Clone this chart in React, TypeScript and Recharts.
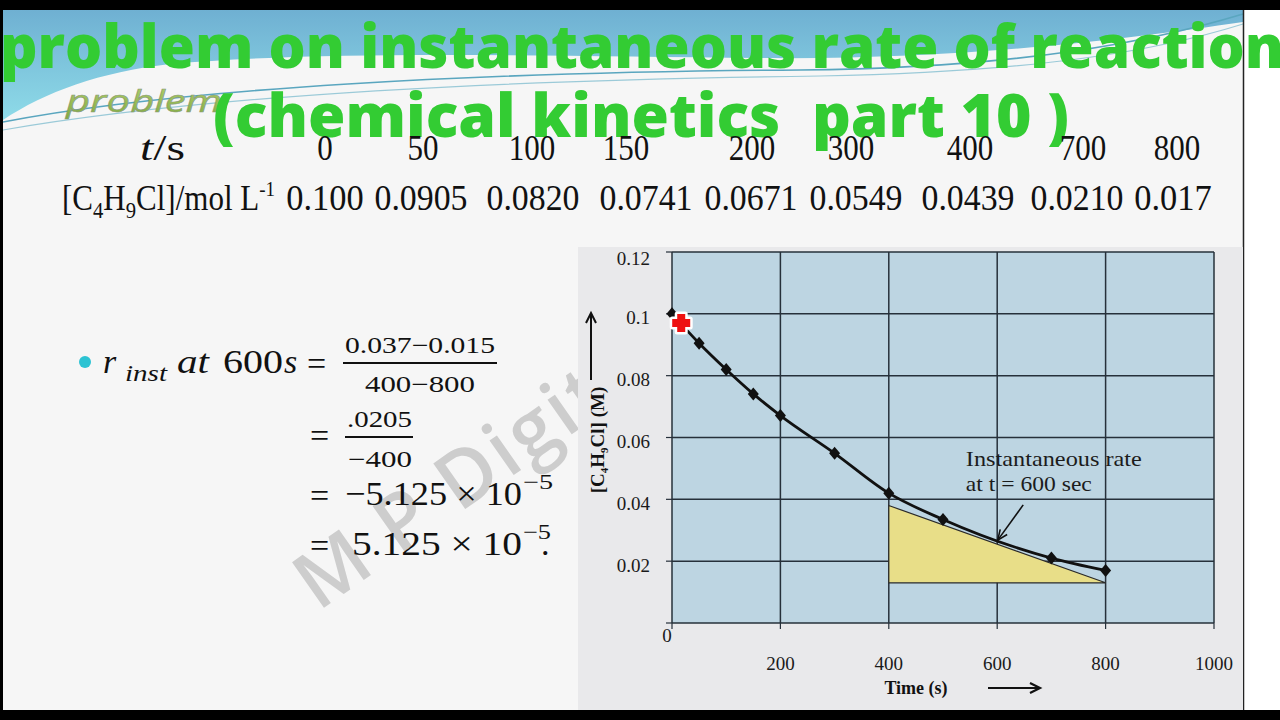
import React from 'react';
import {
  ComposedChart,
  Line,
  Scatter,
  XAxis,
  YAxis,
  CartesianGrid,
  ReferenceArea,
  ReferenceLine,
  ReferenceDot,
} from 'recharts';

// table on the slide
const tableTimes = ['0', '50', '100', '150', '200', '300', '400', '700', '800'];
const tableConc = ['0.100', '0.0905', '0.0820', '0.0741', '0.0671', '0.0549', '0.0439', '0.0210', '0.017'];

// points plotted on the graph
const plotTimes = [0, 50, 100, 150, 200, 300, 400, 500, 700, 800];
const plotConc = [0.1, 0.0905, 0.082, 0.0741, 0.0671, 0.0549, 0.042, 0.0335, 0.021, 0.017];

const xTicks = [0, 200, 400, 600, 800, 1000];
const yTicks = [0, 0.02, 0.04, 0.06, 0.08, 0.1, 0.12];

// tangent triangle drawn at t = 600 s
const tangentTimes = [400, 800];
const tangentConc = [0.038, 0.013];

// arrow pointing at the tangent, and where its caption sits
const arrowFrom = { x: 648, y: 0.0382 };
const arrowTo = { x: 601, y: 0.0268 };
const captionAt = { x: 544, y: 0.0505 };
const captionLines = ['Instantaneous rate', 'at t = 600 sec'];

// red cursor mark near the first point
const cursorMark = [{ t: 17, c: 0.097 }];

const curveData = plotTimes.map((t, i) => ({ t, c: plotConc[i] }));

const tableColX = [325, 423, 532, 626, 752, 851, 970, 1083, 1177];
const tableConcX = [325, 421, 533, 646, 751, 856, 968, 1077, 1173];

const serif = '"Liberation Serif", "DejaVu Serif", serif';
const sans = '"Open Sans", "Noto Sans", sans-serif';

const Diamond = (p: any) => {
  const { cx, cy } = p;
  if (cx == null || cy == null) return null;
  return (
    <path
      d={`M${cx},${cy - 6.5}L${cx + 5.5},${cy}L${cx},${cy + 6.5}L${cx - 5.5},${cy}Z`}
      fill="#111"
    />
  );
};

const RedCross = (p: any) => {
  const { cx, cy } = p;
  const a = 9;
  const w = 4;
  const d = `M${cx - w},${cy - a}H${cx + w}V${cy - w}H${cx + a}V${cy + w}H${cx + w}V${cy + a}H${cx - w}V${cy + w}H${cx - a}V${cy - w}H${cx - w}Z`;
  return (
    <g>
      <path d={d} fill="#fff" stroke="#fff" strokeWidth={5} strokeLinejoin="round" />
      <path d={d} fill="#ee1111" />
    </g>
  );
};

const Triangle = (p: any) => {
  const { x, y, width, height } = p;
  return (
    <path
      d={`M${x},${y}L${x},${y + height}L${x + width},${y + height}Z`}
      fill="#e8de88"
      stroke="#2a2a2a"
      strokeWidth={1.2}
    />
  );
};

const ArrowShape = (p: any) => {
  const { x1, y1, x2, y2 } = p;
  const ang = Math.atan2(y2 - y1, x2 - x1);
  const L = 11;
  const s = 0.4;
  const ax = x2 - L * Math.cos(ang - s);
  const ay = y2 - L * Math.sin(ang - s);
  const bx = x2 - L * Math.cos(ang + s);
  const by = y2 - L * Math.sin(ang + s);
  return (
    <g>
      <line x1={x1} y1={y1} x2={x2} y2={y2} stroke="#111" strokeWidth={1.6} />
      <path d={`M${ax},${ay}L${x2},${y2}L${bx},${by}`} fill="none" stroke="#111" strokeWidth={1.6} />
    </g>
  );
};

const Caption = (p: any) => {
  const { x, y } = p.viewBox;
  return (
    <g fontFamily={serif} fontSize={22} fill="#1c1c1c">
      <text x={x} y={y} textLength={176} lengthAdjust="spacingAndGlyphs">
        {captionLines[0]}
      </text>
      <text x={x} y={y + 25} textLength={126} lengthAdjust="spacingAndGlyphs" style={{ whiteSpace: 'pre' }}>
        {captionLines[1]}
      </text>
    </g>
  );
};

const XTick = (p: any) => {
  const { x, y, payload } = p;
  if (payload.value === 0) return null;
  return (
    <text x={x} y={y + 34} dy="0.35em" textAnchor="middle" fontFamily={serif} fontSize={19} fill="#1a1a1a">
      {payload.value}
    </text>
  );
};

const YTick = (p: any) => {
  const { x, y, payload } = p;
  if (payload.value === 0) {
    return (
      <text x={x + 1} y={y + 12} dy="0.35em" textAnchor="middle" fontFamily={serif} fontSize={19} fill="#1a1a1a">
        0
      </text>
    );
  }
  return (
    <text x={x - 16} y={y + 4} dy="0.35em" textAnchor="end" fontFamily={serif} fontSize={19} fill="#1a1a1a">
      {String(payload.value)}
    </text>
  );
};

const TimeLabel = (p: any) => {
  const { x, y } = p.viewBox;
  const cx = x + 244;
  const by = y + 71;
  return (
    <g>
      <text x={cx} y={by} textAnchor="middle" fontFamily={serif} fontSize={18} fill="#111" fontWeight={600}>
        Time (s)
      </text>
      <line x1={cx + 72} y1={by - 6} x2={cx + 122} y2={by - 6} stroke="#111" strokeWidth={2.2} />
      <path d={`M${cx + 114},${by - 11}L${cx + 124},${by - 6}L${cx + 114},${by - 1}`} fill="none" stroke="#111" strokeWidth={2.2} />
    </g>
  );
};

const ConcLabel = (p: any) => {
  const { x, y } = p.viewBox;
  const cx = x + 19;
  const cy = y + 188;
  return (
    <g>
      <text
        transform={`translate(${cx},${cy}) rotate(-90)`}
        textAnchor="middle"
        dy="0.35em"
        fontFamily={serif}
        fontSize={19}
        fontWeight={600}
        fill="#111"
        style={{ whiteSpace: 'pre' }}
      >
        [C<tspan fontSize={11} dy={4}>4</tspan>
        <tspan dy={-4}>H</tspan>
        <tspan fontSize={11} dy={4}>9</tspan>
        <tspan dy={-4}>Cl] (M)</tspan>
      </text>
      <line x1={cx - 6} y1={y + 128} x2={cx - 6} y2={y + 62} stroke="#111" strokeWidth={2} />
      <path d={`M${cx - 11},${y + 71}L${cx - 6},${y + 61}L${cx - 1},${y + 71}`} fill="none" stroke="#111" strokeWidth={2} />
    </g>
  );
};

const Slide = () => (
  <svg width={1280} height={720} style={{ position: 'absolute', left: 0, top: 0 }}>
    <defs>
      <linearGradient id="waveFill" x1="0" y1="0" x2="0" y2="1">
        <stop offset="0" stopColor="#6fb0d2" />
        <stop offset="1" stopColor="#8edbe8" />
      </linearGradient>
      <linearGradient id="probFill" x1="0" y1="0" x2="0" y2="1">
        <stop offset="0" stopColor="#b8d66e" />
        <stop offset="1" stopColor="#7ea83c" />
      </linearGradient>
    </defs>
    <rect x={0} y={0} width={1280} height={720} fill="#000" />
    <rect x={3} y={10} width={1240} height={700} fill="#f6f6f6" />
    <path
      d="M3,10 H1243 V22 C1120,40 960,60 760,58 C540,56 330,50 170,64 C100,72 45,92 3,120 Z"
      fill="url(#waveFill)"
    />
    <path d="M3,122 C180,88 480,72 800,70 C1020,68 1150,42 1243,14" fill="none" stroke="#5aa6bf" strokeWidth={1.6} />
    <path d="M3,130 C200,96 500,80 820,76 C1040,72 1160,50 1243,24" fill="none" stroke="#9bcad8" strokeWidth={1.2} />
    <rect x={1243} y={10} width={37} height={700} fill="#fff" />
    <line x1={1243.5} y1={10} x2={1243.5} y2={710} stroke="#222" strokeWidth={1.5} />

    {/* watermark */}
    <text
      x={318}
      y={612}
      transform="rotate(-35 318 612)"
      fontFamily={sans}
      fontWeight={600}
      fontSize={78}
      letterSpacing={3}
      fill="#cdcdcd"
      style={{ whiteSpace: 'pre' }}
    >
      M P Digital
    </text>

    {/* title */}
    <text x={0} y={68} fontFamily={sans} fontWeight={800} fontSize={60} fill="#33cc33" textLength={1284} lengthAdjust="spacingAndGlyphs">
      problem on instantaneous rate of reaction
    </text>
    <text x={66} y={112} fontFamily={sans} fontStyle="italic" fontSize={31} fill="url(#probFill)" stroke="#8a9a80" strokeWidth={0.6} textLength={156} lengthAdjust="spacingAndGlyphs">
      problem
    </text>
    <text x={213} y={137} fontFamily={sans} fontWeight={800} fontSize={60} fill="#33cc33" textLength={856} lengthAdjust="spacingAndGlyphs" style={{ whiteSpace: 'pre' }}>
      (chemical kinetics  part 10 )
    </text>

    {/* data table */}
    <text x={140} y={160} fontFamily={serif} fontSize={36} fill="#111" textLength={45} lengthAdjust="spacingAndGlyphs">
      <tspan fontStyle="italic">t</tspan>/s
    </text>
    {tableTimes.map((t, i) => (
      <text
        key={t}
        x={tableColX[i]}
        y={160}
        textAnchor="middle"
        fontFamily={serif}
        fontSize={36}
        fill="#111"
        textLength={t.length * 15.5}
        lengthAdjust="spacingAndGlyphs"
      >
        {t}
      </text>
    ))}
    <text x={62} y={210} fontFamily={serif} fontSize={36} fill="#111" textLength={213} lengthAdjust="spacingAndGlyphs">
      [C<tspan fontSize={24} dy={8}>4</tspan>
      <tspan dy={-8}>H</tspan>
      <tspan fontSize={24} dy={8}>9</tspan>
      <tspan dy={-8}>Cl]/mol L</tspan>
      <tspan fontSize={22} dy={-14}>-1</tspan>
    </text>
    {tableConc.map((c, i) => (
      <text
        key={c}
        x={tableConcX[i]}
        y={210}
        textAnchor="middle"
        fontFamily={serif}
        fontSize={36}
        fill="#111"
        textLength={c.length * 15.5}
        lengthAdjust="spacingAndGlyphs"
      >
        {c}
      </text>
    ))}

    {/* worked solution */}
    <circle cx={85} cy={362} r={6} fill="#2cc3d3" />
    <g fontFamily={serif} fill="#111">
      <text x={103} y={373} fontSize={34} fontStyle="italic">r</text>
      <text x={125} y={381} fontSize={23} fontStyle="italic" textLength={42} lengthAdjust="spacingAndGlyphs">inst</text>
      <text x={177} y={373} fontSize={34} fontStyle="italic" textLength={32} lengthAdjust="spacingAndGlyphs">at</text>
      <text x={223} y={373} fontSize={34} textLength={60} lengthAdjust="spacingAndGlyphs">600</text>
      <text x={284} y={373} fontSize={34} fontStyle="italic">s</text>
      <text x={307} y={375} fontSize={34}>=</text>
      <text x={345} y={353} fontSize={23} textLength={150} lengthAdjust="spacingAndGlyphs">0.037−0.015</text>
      <rect x={343} y={362} width={154} height={2} fill="#111" />
      <text x={365} y={392} fontSize={23} textLength={110} lengthAdjust="spacingAndGlyphs">400−800</text>

      <text x={310} y={447} fontSize={34}>=</text>
      <text x={347} y={427} fontSize={23} textLength={65} lengthAdjust="spacingAndGlyphs">.0205</text>
      <rect x={345} y={436} width={68} height={2} fill="#111" />
      <text x={348} y={467} fontSize={23} textLength={64} lengthAdjust="spacingAndGlyphs">−400</text>

      <text x={310} y={507} fontSize={34}>=</text>
      <text x={345} y={505} fontSize={34} textLength={177} lengthAdjust="spacingAndGlyphs">−5.125 × 10</text>
      <text x={523} y={489} fontSize={21} textLength={30} lengthAdjust="spacingAndGlyphs">−5</text>

      <text x={310} y={557} fontSize={34}>=</text>
      <text x={352} y={555} fontSize={34} textLength={170} lengthAdjust="spacingAndGlyphs">5.125 × 10</text>
      <text x={523} y={539} fontSize={21} textLength={28} lengthAdjust="spacingAndGlyphs">−5</text>
      <text x={541} y={555} fontSize={34}>.</text>
    </g>
  </svg>
);

export default function App() {
  return (
    <div style={{ position: 'fixed', left: 0, top: 0, width: 1280, height: 720, overflow: 'hidden' }}>
      <Slide />
      <div style={{ position: 'absolute', left: 578, top: 247, width: 665, height: 463, background: '#e9e9eb' }} />
      <div style={{ position: 'absolute', left: 578, top: 245 }}>
        <ComposedChart width={665} height={465} data={curveData} margin={{ top: 7, right: 29, bottom: 0, left: 0 }}>
          <CartesianGrid stroke="#26303a" strokeWidth={1.5} fill="#bdd5e2" fillOpacity={1} />
          <XAxis
            type="number"
            dataKey="t"
            domain={[0, 1000]}
            ticks={xTicks}
            axisLine={false}
            tickLine={{ stroke: '#26303a', strokeWidth: 1.2 }}
            tickSize={6}
            tickMargin={0}
            tick={<XTick />}
            height={87}
            label={TimeLabel}
          />
          <YAxis
            type="number"
            domain={[0, 0.12]}
            ticks={yTicks}
            axisLine={false}
            tickLine={{ stroke: '#26303a', strokeWidth: 1.2 }}
            tickSize={6}
            tickMargin={0}
            tick={<YTick />}
            width={94}
            label={ConcLabel}
          />
          <ReferenceArea
            x1={tangentTimes[0]}
            x2={tangentTimes[1]}
            y1={tangentConc[1]}
            y2={tangentConc[0]}
            shape={Triangle}
          />
          <Line
            type="monotone"
            dataKey="c"
            stroke="#111"
            strokeWidth={2.8}
            dot={(p: any) => <Diamond key={`dot-${p.index}`} {...p} />}
            activeDot={false}
            isAnimationActive={false}
          />
          <ReferenceLine segment={[arrowFrom, arrowTo]} shape={ArrowShape} />
          <ReferenceDot x={captionAt.x} y={captionAt.y} r={1} fill="none" stroke="none" label={Caption} />
          <Scatter data={cursorMark} dataKey="c" shape={RedCross} isAnimationActive={false} />
        </ComposedChart>
      </div>
    </div>
  );
}
